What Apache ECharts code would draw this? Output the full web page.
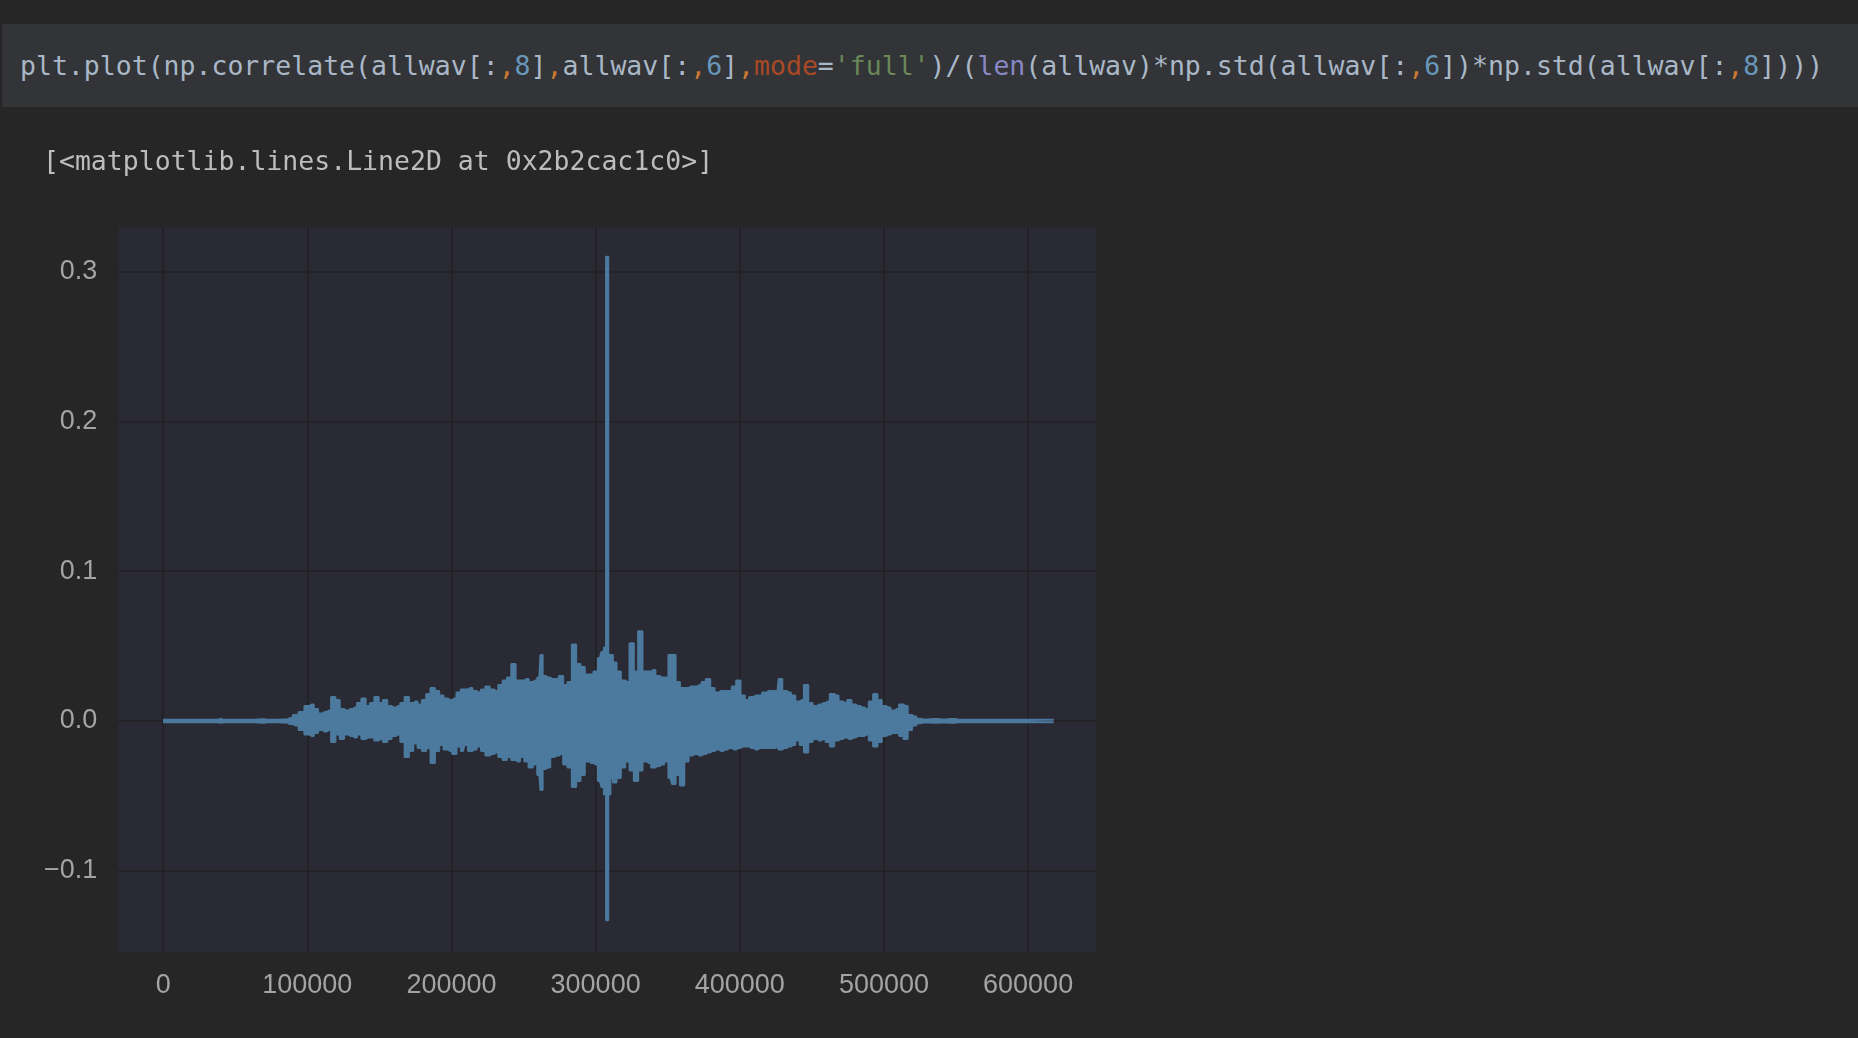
<!DOCTYPE html>
<html>
<head>
<meta charset="utf-8">
<script src="https://cdn.jsdelivr.net/npm/echarts@6/dist/echarts.min.js"></script>
<style>
  html, body { margin:0; padding:0; background:#262626; width:1858px; height:1038px; overflow:hidden; }
  #chart { position:absolute; left:0; top:0; width:1858px; height:1038px; z-index:1; }
  .cell { position:absolute; left:2px; top:24px; width:1856px; height:83px; background:#323437; z-index:2; }
  .code { position:absolute; left:18px; top:0; height:83px; line-height:83px; font-family:"DejaVu Sans Mono", monospace; font-size:26.5px; color:#a9b7c6; white-space:pre; }
  .out { position:absolute; left:43px; top:145px; line-height:32px; font-family:"DejaVu Sans Mono", monospace; font-size:26.5px; color:#bdbdbd; white-space:pre; z-index:2; }
  .o { color:#cc7832; } .n { color:#6897bb; } .k { color:#aa4926; } .s { color:#6a8759; } .b { color:#8888c6; }
</style>
</head>
<body>
<div id="chart"></div>
<div class="cell"><div class="code">plt.plot(np.correlate(allwav[:<span class="o">,</span><span class="n">8</span>]<span class="o">,</span>allwav[:<span class="o">,</span><span class="n">6</span>]<span class="o">,</span><span class="k">mode</span>=<span class="s">'full'</span>)/(<span class="b">len</span>(allwav)*np.std(allwav[:<span class="o">,</span><span class="n">6</span>])*np.std(allwav[:<span class="o">,</span><span class="n">8</span>])))</div></div>
<div class="out">[&lt;matplotlib.lines.Line2D at 0x2b2cac1c0&gt;]</div>
<script>
// Lag positions (x) and upper / lower envelope of the normalised cross-correlation
const lags = [
  0, 20000, 38000, 40000, 42000, 60000, 68000, 72000, 84000, 88000, 92000, 96000,
  100000, 103000, 106000, 109000, 112000, 115000, 118000, 121000, 124000, 127000,
  130000, 133000, 136000, 139000, 142000, 145000, 148000, 151000, 154000, 157000,
  160000, 163000, 166000, 169000, 172000, 175000, 178000, 181000, 184000, 187000,
  190000, 193000, 196000, 199000, 202000, 205000, 208000, 210000, 213000, 216000,
  219000, 222000, 225000, 228000, 231000, 234000, 237000, 240000, 243000, 246000,
  249000, 252000, 255000, 258000, 261000, 262500, 264000, 267000, 270000, 273000,
  276000, 279000, 282000, 285000, 288000, 291000, 294000, 297000, 300000, 303000,
  305000, 306500, 308000, 309500, 311000, 313000, 316000, 319000, 322000, 325000,
  328000, 331000, 334000, 337000, 340000, 343000, 346000, 349000, 352000, 354000,
  357000, 360000, 363000, 366000, 369000, 372000, 375000, 378000, 381000, 384000,
  387000, 390000, 393000, 396000, 399000, 402000, 405000, 408000, 411000, 414000,
  417000, 420000, 423000, 426000, 428000, 431000, 434000, 437000, 440000, 443000,
  446000, 449000, 452000, 455000, 458000, 461000, 464000, 467000, 470000, 473000,
  476000, 479000, 482000, 485000, 488000, 491000, 494000, 497000, 500000, 503000,
  506000, 509000, 512000, 515000, 518000, 521000, 524000, 527000, 534000, 540000,
  546000, 552000, 580000, 617800
];
const upperEnv = [
  0.0008, 0.0008, 0.0008, 0.0013, 0.0008, 0.0008, 0.0012, 0.0008, 0.0010, 0.002, 0.004, 0.006,
  0.010, 0.011, 0.008, 0.005, 0.006, 0.007, 0.016, 0.014, 0.008, 0.007,
  0.008, 0.009, 0.012, 0.015, 0.010, 0.012, 0.016, 0.012, 0.014, 0.010,
  0.009, 0.010, 0.012, 0.016, 0.012, 0.013, 0.011, 0.014, 0.018, 0.022,
  0.020, 0.017, 0.015, 0.014, 0.015, 0.019, 0.021, 0.021, 0.022, 0.020,
  0.019, 0.021, 0.023, 0.021, 0.020, 0.024, 0.027, 0.029, 0.038, 0.027,
  0.027, 0.028, 0.026, 0.027, 0.029, 0.044, 0.030, 0.029, 0.028, 0.028,
  0.030, 0.024, 0.026, 0.051, 0.038, 0.036, 0.031, 0.031, 0.033, 0.042,
  0.046, 0.049, 0.310, 0.044, 0.044, 0.039, 0.033, 0.027, 0.026, 0.052,
  0.033, 0.060, 0.033, 0.033, 0.034, 0.030, 0.029, 0.029, 0.044, 0.044,
  0.026, 0.022, 0.022, 0.023, 0.023, 0.024, 0.026, 0.028, 0.022, 0.019,
  0.020, 0.020, 0.020, 0.023, 0.027, 0.017, 0.014, 0.016, 0.017, 0.017,
  0.019, 0.020, 0.020, 0.019, 0.028, 0.020, 0.019, 0.017, 0.013, 0.014,
  0.024, 0.012, 0.010, 0.011, 0.012, 0.013, 0.018, 0.017, 0.013, 0.012,
  0.014, 0.011, 0.010, 0.009, 0.008, 0.013, 0.018, 0.014, 0.010, 0.009,
  0.007, 0.008, 0.011, 0.010, 0.004, 0.003, 0.0015, 0.0010, 0.0014, 0.0010,
  0.0014, 0.0008, 0.0008, 0.0008
];
const lowerEnv = [
  -0.0008, -0.0008, -0.0008, -0.0012, -0.0008, -0.0008, -0.0012, -0.0008, -0.0010, -0.002, -0.003, -0.006,
  -0.009, -0.010, -0.008, -0.006, -0.007, -0.006, -0.014, -0.009, -0.012, -0.009,
  -0.010, -0.011, -0.009, -0.012, -0.011, -0.011, -0.013, -0.012, -0.014, -0.012,
  -0.010, -0.009, -0.014, -0.024, -0.020, -0.015, -0.018, -0.020, -0.018, -0.028,
  -0.020, -0.016, -0.019, -0.020, -0.022, -0.017, -0.020, -0.016, -0.020, -0.019,
  -0.017, -0.020, -0.023, -0.022, -0.021, -0.024, -0.026, -0.024, -0.026, -0.027,
  -0.024, -0.027, -0.031, -0.029, -0.036, -0.046, -0.032, -0.031, -0.024, -0.023,
  -0.022, -0.029, -0.031, -0.044, -0.040, -0.036, -0.027, -0.028, -0.029, -0.040,
  -0.044, -0.049, -0.133, -0.049, -0.038, -0.041, -0.038, -0.031, -0.027, -0.033,
  -0.040, -0.033, -0.027, -0.028, -0.031, -0.030, -0.029, -0.027, -0.038, -0.042,
  -0.036, -0.043, -0.027, -0.023, -0.022, -0.023, -0.022, -0.021, -0.020, -0.019,
  -0.020, -0.019, -0.018, -0.019, -0.018, -0.017, -0.017, -0.018, -0.019, -0.018,
  -0.018, -0.018, -0.018, -0.017, -0.019, -0.018, -0.017, -0.016, -0.013, -0.016,
  -0.021, -0.014, -0.012, -0.013, -0.012, -0.014, -0.017, -0.013, -0.012, -0.011,
  -0.012, -0.011, -0.010, -0.010, -0.009, -0.013, -0.017, -0.014, -0.010, -0.009,
  -0.008, -0.008, -0.010, -0.012, -0.006, -0.003, -0.0015, -0.0010, -0.0012, -0.0010,
  -0.0012, -0.0008, -0.0008, -0.0008
];
const xTicks = [0, 100000, 200000, 300000, 400000, 500000, 600000];
const yTicks = [-0.1, 0.0, 0.1, 0.2, 0.3];

const lineColor = '#4c7a9e';
const upperData = lags.map((x, i) => [x, upperEnv[i]]);
const lowerData = lags.map((x, i) => [x, lowerEnv[i]]);

const chart = echarts.init(document.getElementById('chart'), null, { renderer: 'canvas' });
const labelFont = { color: '#a4a4a4', fontSize: 27, fontFamily: '"Liberation Sans", Arial, sans-serif' };
const gridLine = { show: true, lineStyle: { color: '#202024', width: 1.5 } };

chart.setOption({
  animation: false,
  backgroundColor: 'transparent',
  grid: { left: 118.3, top: 227.3, width: 977.7, height: 724.7, show: true, backgroundColor: '#292a33', borderWidth: 0 },
  xAxis: {
    type: 'value', min: -31100, max: 647100,
    axisLine: { show: false },
    axisTick: { show: false, customValues: xTicks },
    axisLabel: Object.assign({ customValues: xTicks, margin: 20, formatter: v => String(v) }, labelFont),
    splitLine: gridLine
  },
  yAxis: {
    type: 'value', min: -0.1542, max: 0.3296,
    axisLine: { show: false },
    axisTick: { show: false, customValues: yTicks },
    axisLabel: Object.assign({ customValues: yTicks, margin: 21,
      formatter: v => (v < -1e-9 ? '\u2212' : '') + Math.abs(v).toFixed(1) }, labelFont),
    splitLine: gridLine
  },
  series: [
    { type: 'line', data: upperData, step: 'middle', symbol: 'none', silent: true,
      lineStyle: { color: lineColor, width: 2 }, areaStyle: { color: lineColor, opacity: 1 } },
    { type: 'line', data: lowerData, step: 'middle', symbol: 'none', silent: true,
      lineStyle: { color: lineColor, width: 2 }, areaStyle: { color: lineColor, opacity: 1 } }
  ]
});
</script>
</body>
</html>
